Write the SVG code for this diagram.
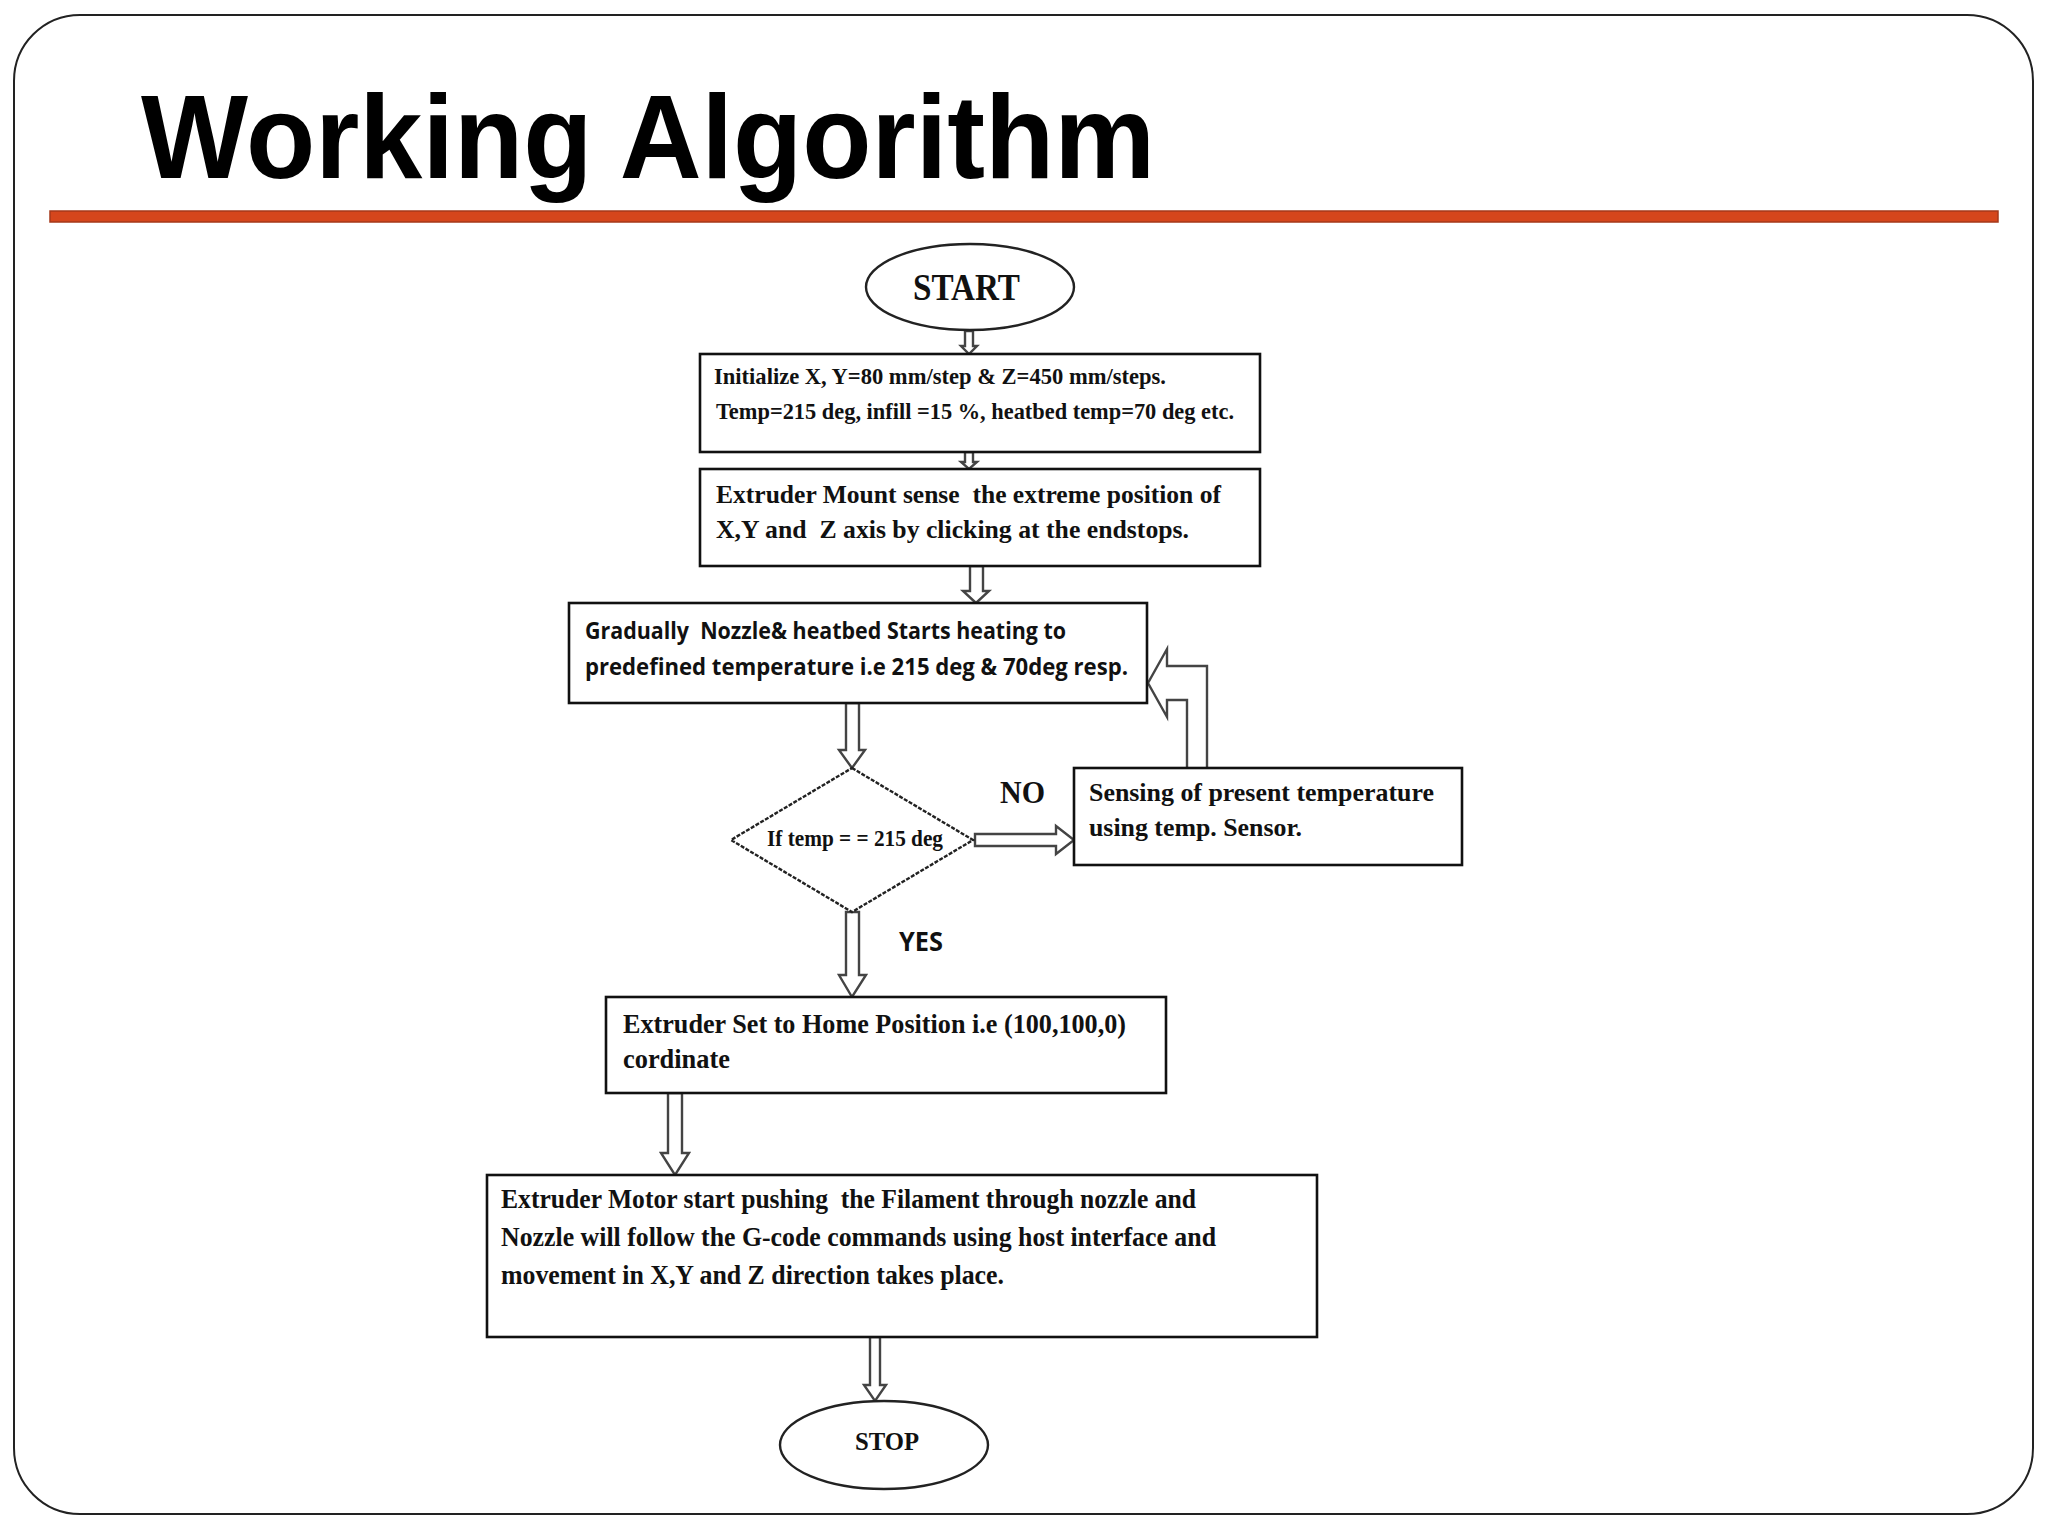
<svg xmlns="http://www.w3.org/2000/svg" width="2048" height="1536" viewBox="0 0 2048 1536">
<style>
text{white-space:pre}
.frame{fill:#fff;stroke:#222;stroke-width:2}
.box{fill:#fff;stroke:#111;stroke-width:2.6}
.term{fill:#fff;stroke:#222;stroke-width:2.4}
.dia{fill:#fff;stroke:#222;stroke-width:2.4;stroke-dasharray:4 1.5}
.arr{fill:#fff;stroke:#444;stroke-width:2.4;stroke-linejoin:miter}
.serif{font-family:"Liberation Serif","Times New Roman",serif;font-weight:bold;fill:#111}
.sans{font-family:"Open Sans","Liberation Sans",Arial,sans-serif;font-weight:bold;fill:#111}
.title{font-family:"Liberation Sans",Arial,sans-serif;font-weight:bold;fill:#000}
</style>
<rect x="0" y="0" width="2048" height="1536" fill="#fff"/>
<rect class="frame" x="14" y="15" width="2019" height="1499" rx="66" ry="66"/>
<text class="title" x="141" y="178" font-size="118" textLength="1014" lengthAdjust="spacingAndGlyphs">Working Algorithm</text>
<rect x="50" y="211" width="1948" height="11" fill="#d5461c" stroke="#a5391a" stroke-width="1.5"/>

<g id="connectors">
<path class="arr" d="M965,331 L973,331 L973,346 L977,346 L969,354 L961,346 L965,346 Z"/>
<path class="arr" d="M965,452 L973,452 L973,462 L977,462 L969,469 L961,462 L965,462 Z"/>
<path class="arr" d="M970,566 L983,566 L983,591 L989,591 L976,603 L963,591 L970,591 Z"/>
<path class="arr" d="M846,703 L859,703 L859,750 L865,750 L852,768 L839,750 L846,750 Z"/>
<path class="arr" d="M975,834 L1056,834 L1056,826 L1074,840 L1056,854 L1056,846 L975,846 Z"/>
<path class="arr" d="M1187,767 L1187,700 L1167,700 L1167,717 L1148,683 L1167,649 L1167,666 L1207,666 L1207,767"/>
<path class="arr" d="M846,912 L859,912 L859,975 L866,975 L852,997 L839,975 L846,975 Z"/>
<path class="arr" d="M668,1093 L682,1093 L682,1153 L689,1153 L675,1175 L661,1153 L668,1153 Z"/>
<path class="arr" d="M870,1337 L880,1337 L880,1385 L886,1385 L875,1401 L864,1385 L870,1385 Z"/>
<text class="serif" x="1000" y="803" font-size="32" textLength="45" lengthAdjust="spacingAndGlyphs">NO</text>
<text class="sans" x="899" y="951" font-size="27" textLength="44" lengthAdjust="spacingAndGlyphs">YES</text>
</g>

<g id="start">
<ellipse class="term" cx="970" cy="287" rx="104" ry="43"/>
<text class="serif" x="913" y="300" font-size="38" textLength="107" lengthAdjust="spacingAndGlyphs">START</text>
</g>

<g id="init">
<rect class="box" x="700" y="354" width="560" height="98"/>
<text class="serif" x="714" y="384" font-size="23" textLength="452" lengthAdjust="spacingAndGlyphs">Initialize X, Y=80 mm/step &amp; Z=450 mm/steps.</text>
<text class="serif" x="716" y="419" font-size="23" textLength="518" lengthAdjust="spacingAndGlyphs">Temp=215 deg, infill =15 %, heatbed temp=70 deg etc.</text>
</g>

<g id="mount">
<rect class="box" x="700" y="469" width="560" height="97"/>
<text class="serif" x="716" y="503" font-size="26" textLength="505" lengthAdjust="spacingAndGlyphs">Extruder Mount sense  the extreme position of</text>
<text class="serif" x="716" y="538" font-size="26" textLength="473" lengthAdjust="spacingAndGlyphs">X,Y and  Z axis by clicking at the endstops.</text>
</g>

<g id="heating">
<rect class="box" x="569" y="603" width="578" height="100"/>
<text class="sans" x="585" y="639" font-size="24" textLength="481" lengthAdjust="spacingAndGlyphs">Gradually  Nozzle&amp; heatbed Starts heating to</text>
<text class="sans" x="585" y="675" font-size="24" textLength="543" lengthAdjust="spacingAndGlyphs">predefined temperature i.e 215 deg &amp; 70deg resp.</text>
</g>

<g id="decision">
<polygon class="dia" points="852,768 973,840 852,912 731,840"/>
<text class="serif" x="767" y="846" font-size="23" textLength="176" lengthAdjust="spacingAndGlyphs">If temp = = 215 deg</text>
</g>

<g id="sensing">
<rect class="box" x="1074" y="768" width="388" height="97"/>
<text class="serif" x="1089" y="801" font-size="26" textLength="345" lengthAdjust="spacingAndGlyphs">Sensing of present temperature</text>
<text class="serif" x="1089" y="836" font-size="26" textLength="213" lengthAdjust="spacingAndGlyphs">using temp. Sensor.</text>
</g>

<g id="home">
<rect class="box" x="606" y="997" width="560" height="96"/>
<text class="serif" x="623" y="1033" font-size="27" textLength="503" lengthAdjust="spacingAndGlyphs">Extruder Set to Home Position i.e (100,100,0)</text>
<text class="serif" x="623" y="1068" font-size="27" textLength="107" lengthAdjust="spacingAndGlyphs">cordinate</text>
</g>

<g id="motor">
<rect class="box" x="487" y="1175" width="830" height="162"/>
<text class="serif" x="501" y="1208" font-size="27" textLength="695" lengthAdjust="spacingAndGlyphs">Extruder Motor start pushing  the Filament through nozzle and</text>
<text class="serif" x="501" y="1246" font-size="27" textLength="715" lengthAdjust="spacingAndGlyphs">Nozzle will follow the G-code commands using host interface and</text>
<text class="serif" x="501" y="1284" font-size="27" textLength="503" lengthAdjust="spacingAndGlyphs">movement in X,Y and Z direction takes place.</text>
</g>

<g id="stop">
<ellipse class="term" cx="884" cy="1445" rx="104" ry="44"/>
<text class="serif" x="855" y="1450" font-size="26" textLength="64" lengthAdjust="spacingAndGlyphs">STOP</text>
</g>
</svg>
